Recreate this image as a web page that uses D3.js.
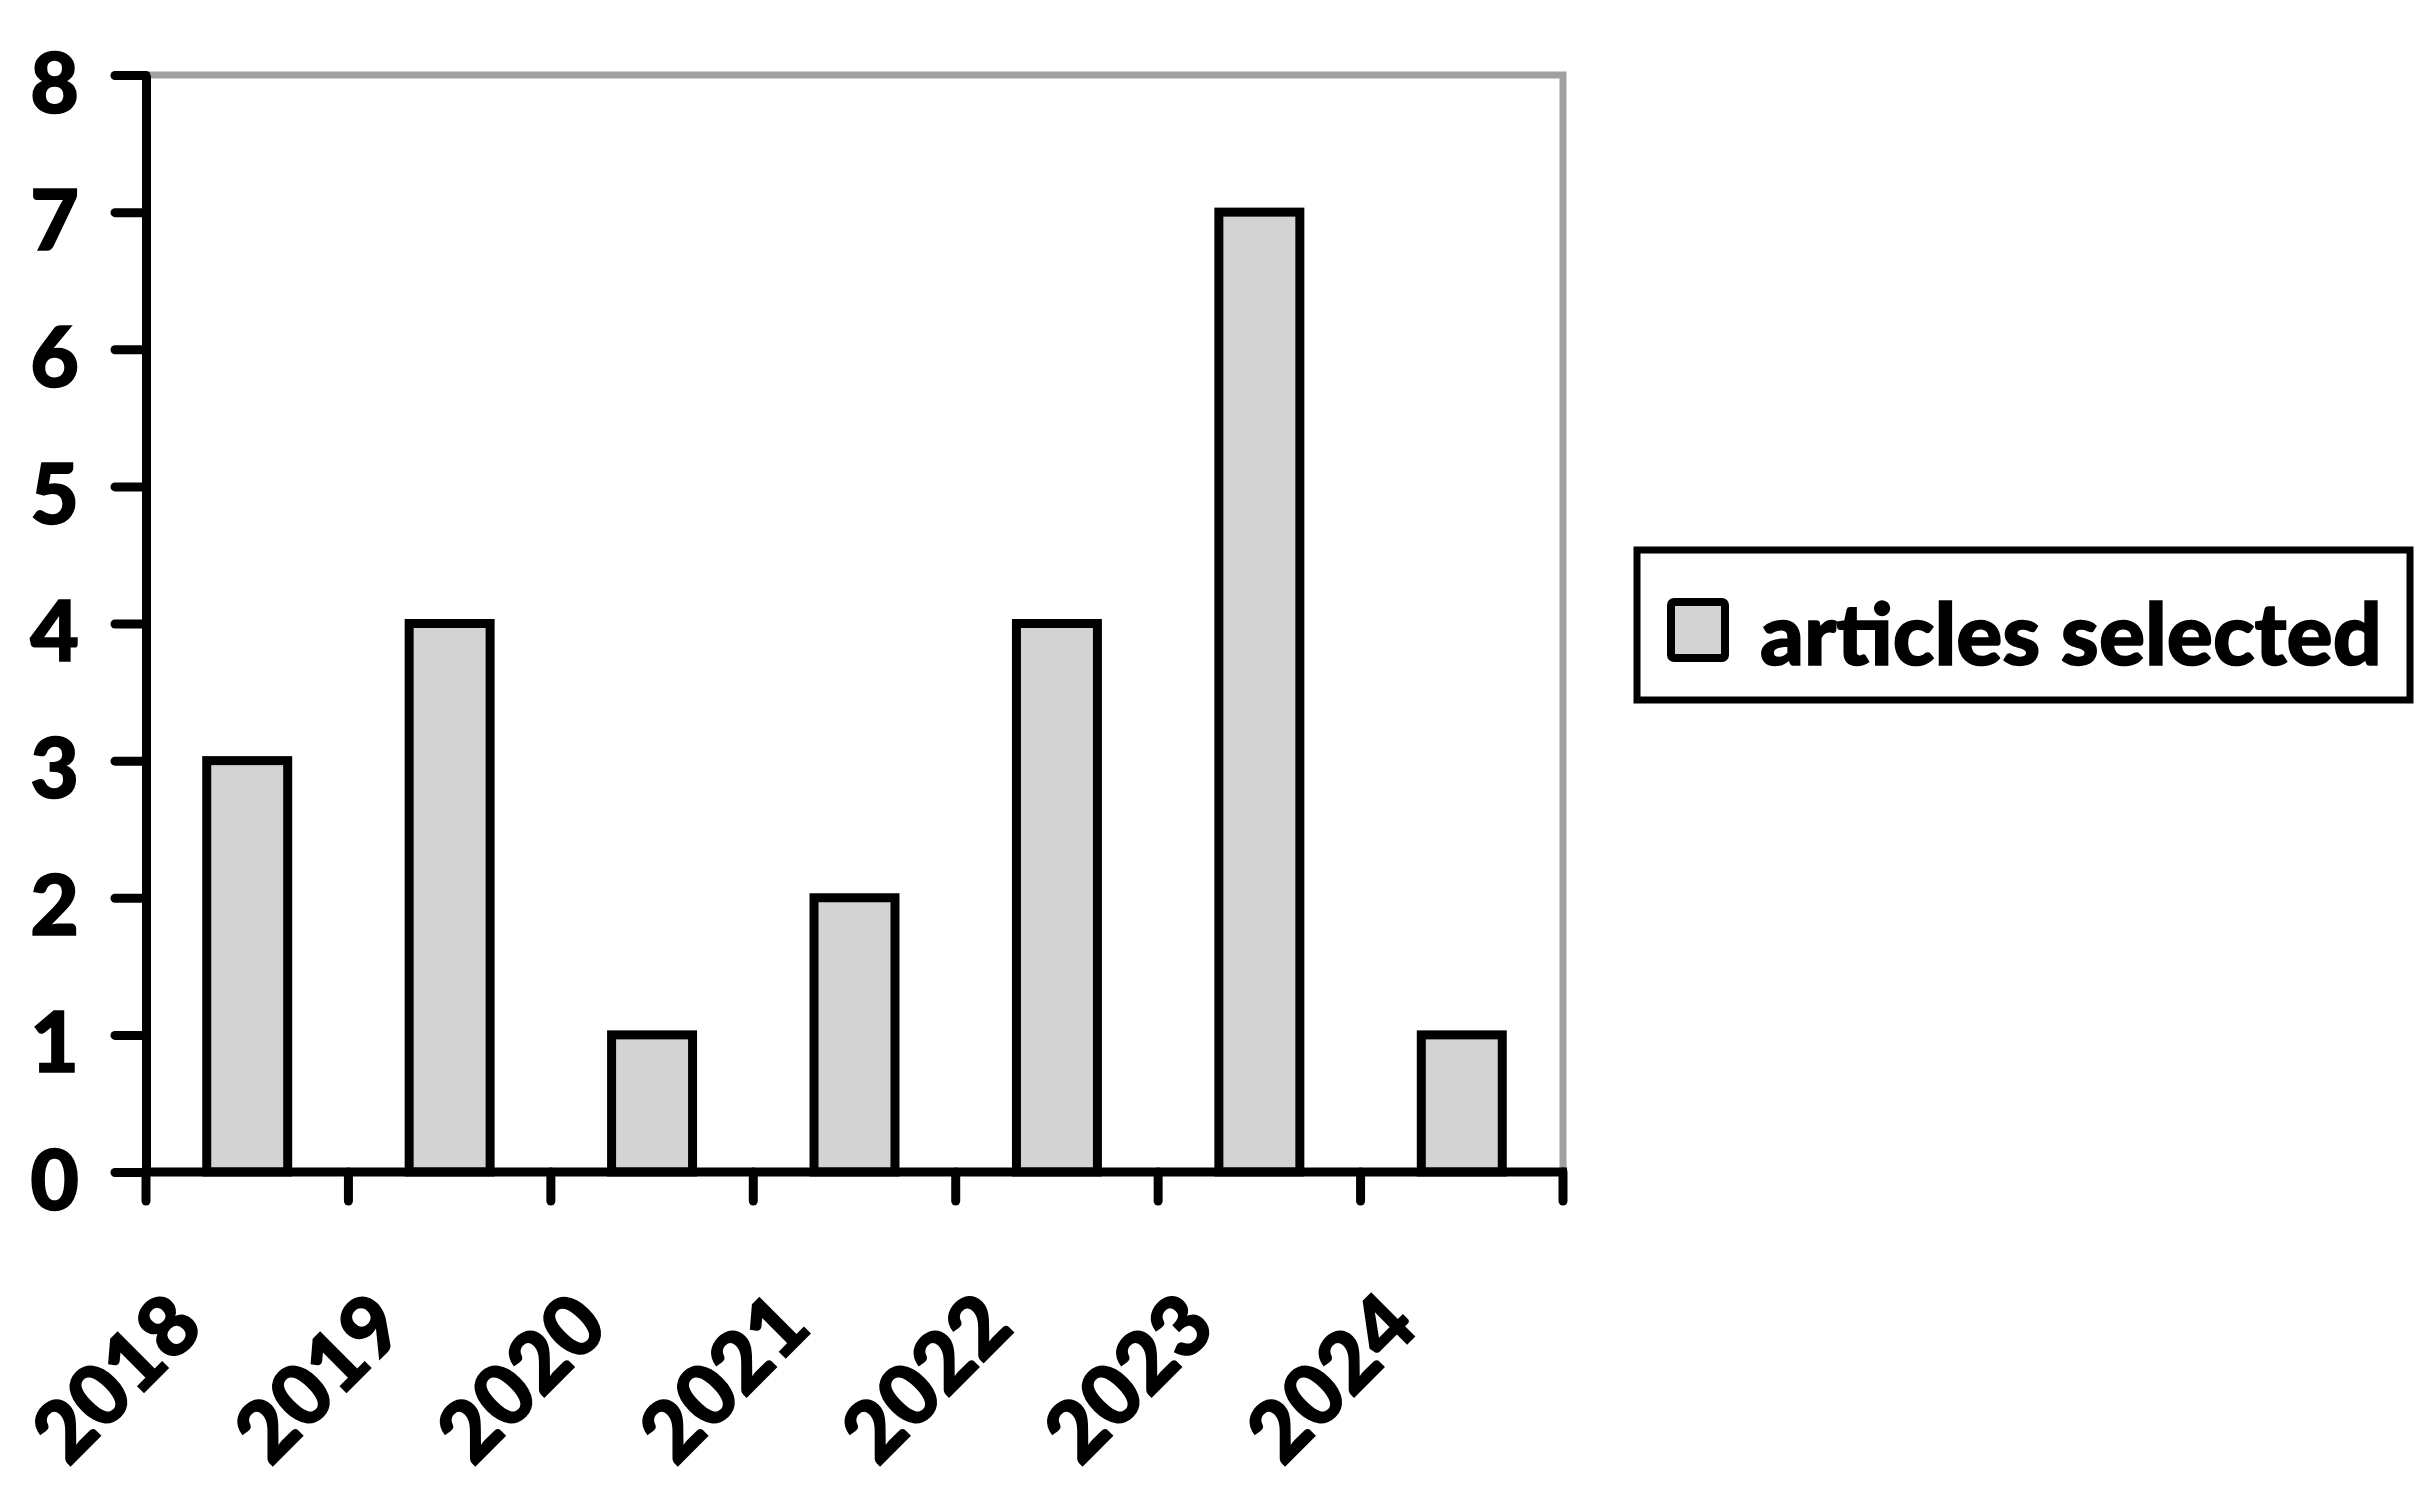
<!DOCTYPE html>
<html lang="en">
<head>
<meta charset="utf-8">
<title>articles selected</title>
<style>
    body { margin: 0; background: #fff; }
    svg { display: block; }
    .lbl { font-family: Lato, 'Open Sans', sans-serif; font-weight: 900; fill: #000; stroke: #000; stroke-width: 1.5px; }
</style>
</head>
<body>
<script src="https://cdn.jsdelivr.net/npm/d3@7"></script>
<script>
    // data
    let years = ["2018", "2019", "2020", "2021", "2022", "2023", "2024"];
    let articles = [3, 4, 1, 2, 4, 7, 1];
    let yTicks = [0, 1, 2, 3, 4, 5, 6, 7, 8];
    let seriesName = "articles selected";

    let width = 2432, height = 1497;
    let plot = {left: 146, right: 1563, top: 75, bottom: 1172};

    let svg = d3.select("body").append("svg")
        .attr("width", width)
        .attr("height", height);

    let x = d3.scaleBand()
        .domain(years)
        .range([plot.left, plot.right])
        .paddingInner(0.6)
        .paddingOuter(0.3);

    // category slots, used for the tick marks between years
    let xSlot = d3.scaleBand()
        .domain(years)
        .range([plot.left, plot.right]);

    let y = d3.scaleLinear()
        .domain([0, 8])
        .range([plot.bottom, plot.top]);

    // grey frame on top and right
    svg.append("path")
        .attr("d", "M" + plot.left + "," + y(8) + "H" + plot.right + "V" + y(0))
        .attr("fill", "none")
        .attr("stroke", "#a0a0a0")
        .attr("stroke-width", 7);

    // bars
    svg.append("g").selectAll("rect")
        .data(years)
        .enter().append("rect")
        .attr("x", d => x(d))
        .attr("width", x.bandwidth())
        .attr("y", (d, i) => y(articles[i]))
        .attr("height", (d, i) => y(0) - y(articles[i]))
        .attr("fill", "#d3d3d3")
        .attr("stroke", "#000")
        .attr("stroke-width", 9);

    // y axis
    let yAxis = svg.append("g")
        .attr("transform", "translate(" + plot.left + ",0)")
        .call(d3.axisLeft(y).tickValues(yTicks).tickSize(31).tickSizeOuter(0).tickPadding(36));
    yAxis.select(".domain").attr("stroke", "#000").attr("stroke-width", 9);
    yAxis.selectAll(".tick line").attr("stroke", "#000").attr("stroke-width", 9).attr("stroke-linecap", "round");
    yAxis.selectAll(".tick text")
        .attr("class", "lbl")
        .attr("dy", 37)
        .style("font-size", "84px");

    // x axis
    let xAxis = svg.append("g");
    xAxis.append("line")
        .attr("x1", plot.left - 4).attr("x2", plot.right + 4)
        .attr("y1", y(0)).attr("y2", y(0))
        .attr("stroke", "#000").attr("stroke-width", 9);
    let tickPos = years.map(d => xSlot(d)).concat([xSlot.range()[1]]);
    xAxis.selectAll(".xtick")
        .data(tickPos)
        .enter().append("line")
        .attr("x1", d => d).attr("x2", d => d)
        .attr("y1", y(0)).attr("y2", y(0) + 29)
        .attr("stroke", "#000").attr("stroke-width", 9)
        .attr("stroke-linecap", "round");
    xAxis.selectAll(".xlabel")
        .data(years)
        .enter().append("text")
        .attr("class", "lbl")
        .attr("transform", d => "translate(" + (x(d) + x.bandwidth() / 2 - 41) + "," + 1330 + ") rotate(-45)")
        .attr("text-anchor", "end")
        .style("font-size", "84px")
        .text(d => d);

    // legend
    let legend = svg.append("g");
    legend.append("rect")
        .attr("x", 1637).attr("y", 550)
        .attr("width", 773).attr("height", 150)
        .attr("fill", "#fff")
        .attr("stroke", "#000")
        .attr("stroke-width", 7);
    legend.append("rect")
        .attr("x", 1671).attr("y", 602)
        .attr("width", 54).attr("height", 56)
        .attr("rx", 3)
        .attr("fill", "#d3d3d3")
        .attr("stroke", "#000")
        .attr("stroke-width", 8);
    legend.append("text")
        .attr("class", "lbl")
        .attr("x", 1760).attr("y", 665)
        .style("font-size", "86px")
        .text(seriesName);
</script>
</body>
</html>
